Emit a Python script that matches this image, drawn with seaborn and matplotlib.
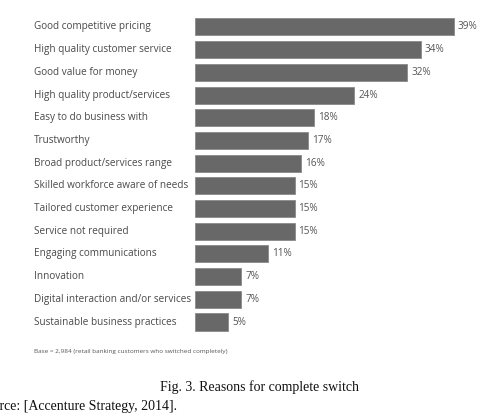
import matplotlib
matplotlib.use("Agg")
import matplotlib.pyplot as plt
import matplotlib.transforms as mtransforms
import pandas as pd
import seaborn as sns

reasons = [
    "Good competitive pricing",
    "High quality customer service",
    "Good value for money",
    "High quality product/services",
    "Easy to do business with",
    "Trustworthy",
    "Broad product/services range",
    "Skilled workforce aware of needs",
    "Tailored customer experience",
    "Service not required",
    "Engaging communications",
    "Innovation",
    "Digital interaction and/or services",
    "Sustainable business practices",
]
shares = [39, 34, 32, 24, 18, 17, 16, 15, 15, 15, 11, 7, 7, 5]

BAR_COLOR = "#686868"
TEXT_COLOR = "#4a4a4a"
SANS = ["Open Sans", "DejaVu Sans"]
SERIF = ["Liberation Serif", "DejaVu Serif"]

df = pd.DataFrame({"reason": reasons, "share": shares})

sns.set_style("white")
plt.rcParams["font.family"] = SANS

fig = plt.figure(figsize=(5.0, 4.19), dpi=100)
ax = fig.add_axes([0.39, 0.2044, 0.60, 0.7583])

sns.barplot(data=df, x="share", y="reason", orient="h", color=BAR_COLOR,
            saturation=1, width=0.75, edgecolor="#8a8a8a", linewidth=0.6, ax=ax)

ax.set_xlim(0, 45.2)
ax.set_ylim(13.5, -0.5)
ax.set_xlabel("")
ax.set_ylabel("")
ax.set_xticks([])
ax.set_yticks([])
sns.despine(ax=ax, left=True, bottom=True)

# category labels, left aligned in the figure margin
trans = mtransforms.blended_transform_factory(fig.transFigure, ax.transData)
for i, name in enumerate(reasons):
    ax.text(0.068, i, name, transform=trans, ha="left", va="center",
            fontsize=7.2, color=TEXT_COLOR)

# value labels
for i, v in enumerate(shares):
    ax.text(v + 0.6, i, f"{v}%", ha="left", va="center",
            fontsize=7.2, color="#555555")

fig.text(0.068, 0.16, "Base = 2,984 (retail banking customers who switched completely)",
         ha="left", va="center", fontsize=4.6, color="#555555")

fig.text(0.52, 0.076, "Fig. 3. Reasons for complete switch",
         ha="center", va="center", fontsize=10, family=SERIF, color="#111111")
fig.text(-0.044, 0.031, "Source: [Accenture Strategy, 2014].",
         ha="left", va="center", fontsize=10, family=SERIF, color="#111111")

fig.savefig("out.png", dpi=100)
